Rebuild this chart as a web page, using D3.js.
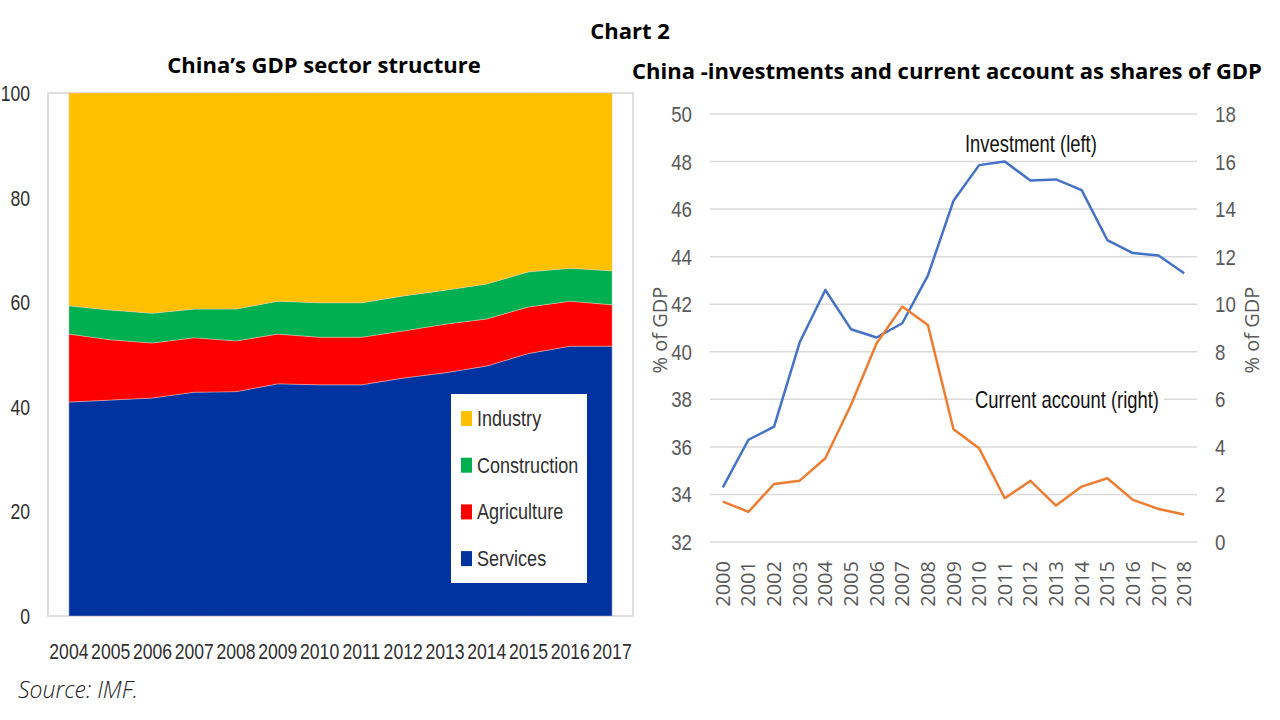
<!DOCTYPE html>
<html>
<head>
<meta charset="utf-8">
<script src="https://cdn.jsdelivr.net/npm/d3@7"></script>
<style>
  body { margin: 0; background: #fff; }
  svg { display: block; }
  .narrow { font-family: "Liberation Sans", Arial, sans-serif; }
  .title { font-family: "Open Sans", "DejaVu Sans", sans-serif; font-weight: bold; fill: #000; }
</style>
</head>
<body>
<svg id="chart" width="1280" height="720"></svg>
<script>
// --- data: left panel (shares of GDP, %) ---
var sectorYears = [2004, 2005, 2006, 2007, 2008, 2009, 2010, 2011, 2012, 2013, 2014, 2015, 2016, 2017];
var services     = [40.9, 41.3, 41.7, 42.8, 42.9, 44.4, 44.2, 44.2, 45.5, 46.5, 47.8, 50.2, 51.6, 51.6];
var agriculture  = [13.0, 11.5, 10.5, 10.4, 9.7, 9.5, 9.1, 9.1, 9.0, 9.3, 9.0, 8.9, 8.6, 7.9];
var construction = [5.4, 5.7, 5.7, 5.5, 6.1, 6.3, 6.6, 6.6, 6.7, 6.5, 6.7, 6.7, 6.3, 6.5];
var industry     = [40.7, 41.5, 42.1, 41.3, 41.3, 39.8, 40.1, 40.1, 38.8, 37.7, 36.5, 34.2, 33.5, 34.0];
var sectorTicks  = [0, 20, 40, 60, 80, 100];

// --- data: right panel ---
var invYears = [2000, 2001, 2002, 2003, 2004, 2005, 2006, 2007, 2008, 2009, 2010, 2011, 2012, 2013, 2014, 2015, 2016, 2017, 2018];
var investment = [34.3, 36.3, 36.85, 40.4, 42.6, 40.95, 40.6, 41.2, 43.2, 46.35, 47.85, 48.0, 47.2, 47.25, 46.8, 44.7, 44.15, 44.05, 43.3];
var currentAccount = [1.7, 1.27, 2.44, 2.58, 3.52, 5.76, 8.36, 9.9, 9.13, 4.74, 3.94, 1.84, 2.57, 1.53, 2.33, 2.68, 1.77, 1.39, 1.16];
var leftTicks = [32, 34, 36, 38, 40, 42, 44, 46, 48, 50];
var rightTicks = [0, 2, 4, 6, 8, 10, 12, 14, 16, 18];

var svg = d3.select("#chart");

// squeeze text horizontally to mimic the narrow office font
function squeezed(g, x, y, sx) {
  return g.append("text").attr("class", "narrow")
    .attr("transform", "translate(" + x + "," + y + ") scale(" + sx + ",1)");
}

// ---------- titles ----------
svg.append("text").attr("class", "title").attr("x", 630).attr("y", 39)
  .attr("text-anchor", "middle").attr("font-size", 22).text("Chart 2");
svg.append("text").attr("class", "title").attr("x", 324).attr("y", 73)
  .attr("text-anchor", "middle").attr("font-size", 22).text("China\u2019s GDP sector structure");
svg.append("text").attr("class", "title").attr("x", 947).attr("y", 79)
  .attr("text-anchor", "middle").attr("font-size", 22).text("China -investments and current account as shares of GDP");

// ---------- left panel: stacked area ----------
var x1 = d3.scaleBand().domain(sectorYears).range([48, 633]);
var y1 = d3.scaleLinear().domain([0, 100]).range([616, 93]);

var rows = sectorYears.map(function(yr, i) {
  return { year: yr, Services: services[i], Agriculture: agriculture[i],
           Construction: construction[i], Industry: industry[i] };
});
var keys = ["Services", "Agriculture", "Construction", "Industry"];
var colors = { Services: "#0033A0", Agriculture: "#FF0000", Construction: "#00B050", Industry: "#FFC000" };

svg.append("rect").attr("x", 48).attr("y", 93).attr("width", 585).attr("height", 523)
  .attr("fill", "#fff").attr("stroke", "#d4d4d4").attr("stroke-width", 1.5);

var stacked = d3.stack().keys(keys)(rows);
var area = d3.area()
  .x(function(d) { return x1(d.data.year) + x1.bandwidth() / 2; })
  .y0(function(d) { return y1(d[0]); })
  .y1(function(d) { return y1(Math.min(100, d[1])); });

svg.append("g").selectAll("path").data(stacked).enter().append("path")
  .attr("d", area)
  .attr("fill", function(d) { return colors[d.key]; })
  .attr("stroke", "#f4d0c8").attr("stroke-width", 0.6).attr("stroke-opacity", 0.7);

var gLeftAxis = svg.append("g");
sectorTicks.forEach(function(t) {
  squeezed(gLeftAxis, 30, y1(t) + 8, 0.8)
    .attr("text-anchor", "end").attr("font-size", 22).attr("fill", "#303030").text(t);
});

var gYears = svg.append("g");
sectorYears.forEach(function(yr) {
  squeezed(gYears, x1(yr) + x1.bandwidth() / 2, 659, 0.8)
    .attr("text-anchor", "middle").attr("font-size", 22).attr("fill", "#303030").text(yr);
});

// legend
var legend = svg.append("g");
legend.append("rect").attr("x", 451).attr("y", 394).attr("width", 136).attr("height", 189).attr("fill", "#fff");
var legendKeys = ["Industry", "Construction", "Agriculture", "Services"];
legendKeys.forEach(function(k, i) {
  var cy = 418 + i * 46.7;
  legend.append("rect").attr("x", 461).attr("y", cy - 7).attr("width", 11).attr("height", 15).attr("fill", colors[k]);
  squeezed(legend, 477, cy + 8, 0.82).attr("font-size", 22).attr("fill", "#303030").text(k);
});

svg.append("text").attr("x", 18).attr("y", 698)
  .attr("font-family", "Open Sans, DejaVu Sans, sans-serif").attr("font-style", "italic")
  .attr("font-weight", 300).attr("font-size", 23).attr("fill", "#222").text("Source: IMF.");

// ---------- right panel: investment and current account ----------
var x2 = d3.scaleBand().domain(invYears).range([710, 1197]);
var yL = d3.scaleLinear().domain([32, 50]).range([542, 114]);
var yR = d3.scaleLinear().domain([0, 18]).range([542, 114]);
var cx = function(d) { return x2(d) + x2.bandwidth() / 2; };

svg.append("g").selectAll("line").data(leftTicks).enter().append("line")
  .attr("x1", 710).attr("x2", 1197)
  .attr("y1", function(d) { return yL(d); }).attr("y2", function(d) { return yL(d); })
  .attr("stroke", "#d9d9d9").attr("stroke-width", 1.5);

var gTicksL = svg.append("g");
leftTicks.forEach(function(t) {
  squeezed(gTicksL, 692, yL(t) + 8, 0.85)
    .attr("text-anchor", "end").attr("font-size", 22).attr("fill", "#595959").text(t);
});
var gTicksR = svg.append("g");
rightTicks.forEach(function(t) {
  squeezed(gTicksR, 1215, yR(t) + 8, 0.85)
    .attr("text-anchor", "start").attr("font-size", 22).attr("fill", "#595959").text(t);
});

svg.append("g").selectAll("text").data(invYears).enter().append("text")
  .attr("font-family", "Open Sans, DejaVu Sans, sans-serif")
  .attr("transform", function(d) { return "translate(" + (cx(d) + 7) + ",561) rotate(-90)"; })
  .attr("text-anchor", "end").attr("font-size", 20).attr("fill", "#595959")
  .text(function(d) { return d; });

[660, 1252].forEach(function(px) {
  svg.append("text").attr("font-family", "Open Sans, DejaVu Sans, sans-serif")
    .attr("transform", "translate(" + (px + 7) + ",330) rotate(-90)")
    .attr("text-anchor", "middle").attr("font-size", 20).attr("fill", "#595959").text("% of GDP");
});

var lineL = d3.line().x(function(d, i) { return cx(invYears[i]); }).y(function(d) { return yL(d); });
var lineR = d3.line().x(function(d, i) { return cx(invYears[i]); }).y(function(d) { return yR(d); });

svg.append("path").datum(investment).attr("d", lineL)
  .attr("fill", "none").attr("stroke", "#4472C4").attr("stroke-width", 2.5).attr("stroke-linejoin", "round");
svg.append("path").datum(currentAccount).attr("d", lineR)
  .attr("fill", "none").attr("stroke", "#ED7D31").attr("stroke-width", 2.5).attr("stroke-linejoin", "round");

svg.append("rect").attr("x", 974).attr("y", 388).attr("width", 190).attr("height", 22).attr("fill", "#fff");
var gNotes = svg.append("g");
squeezed(gNotes, 975, 408, 0.8).attr("font-size", 23).attr("fill", "#111").text("Current account (right)");
squeezed(gNotes, 965, 152, 0.8).attr("font-size", 23).attr("fill", "#111").text("Investment (left)");
</script>
</body>
</html>
